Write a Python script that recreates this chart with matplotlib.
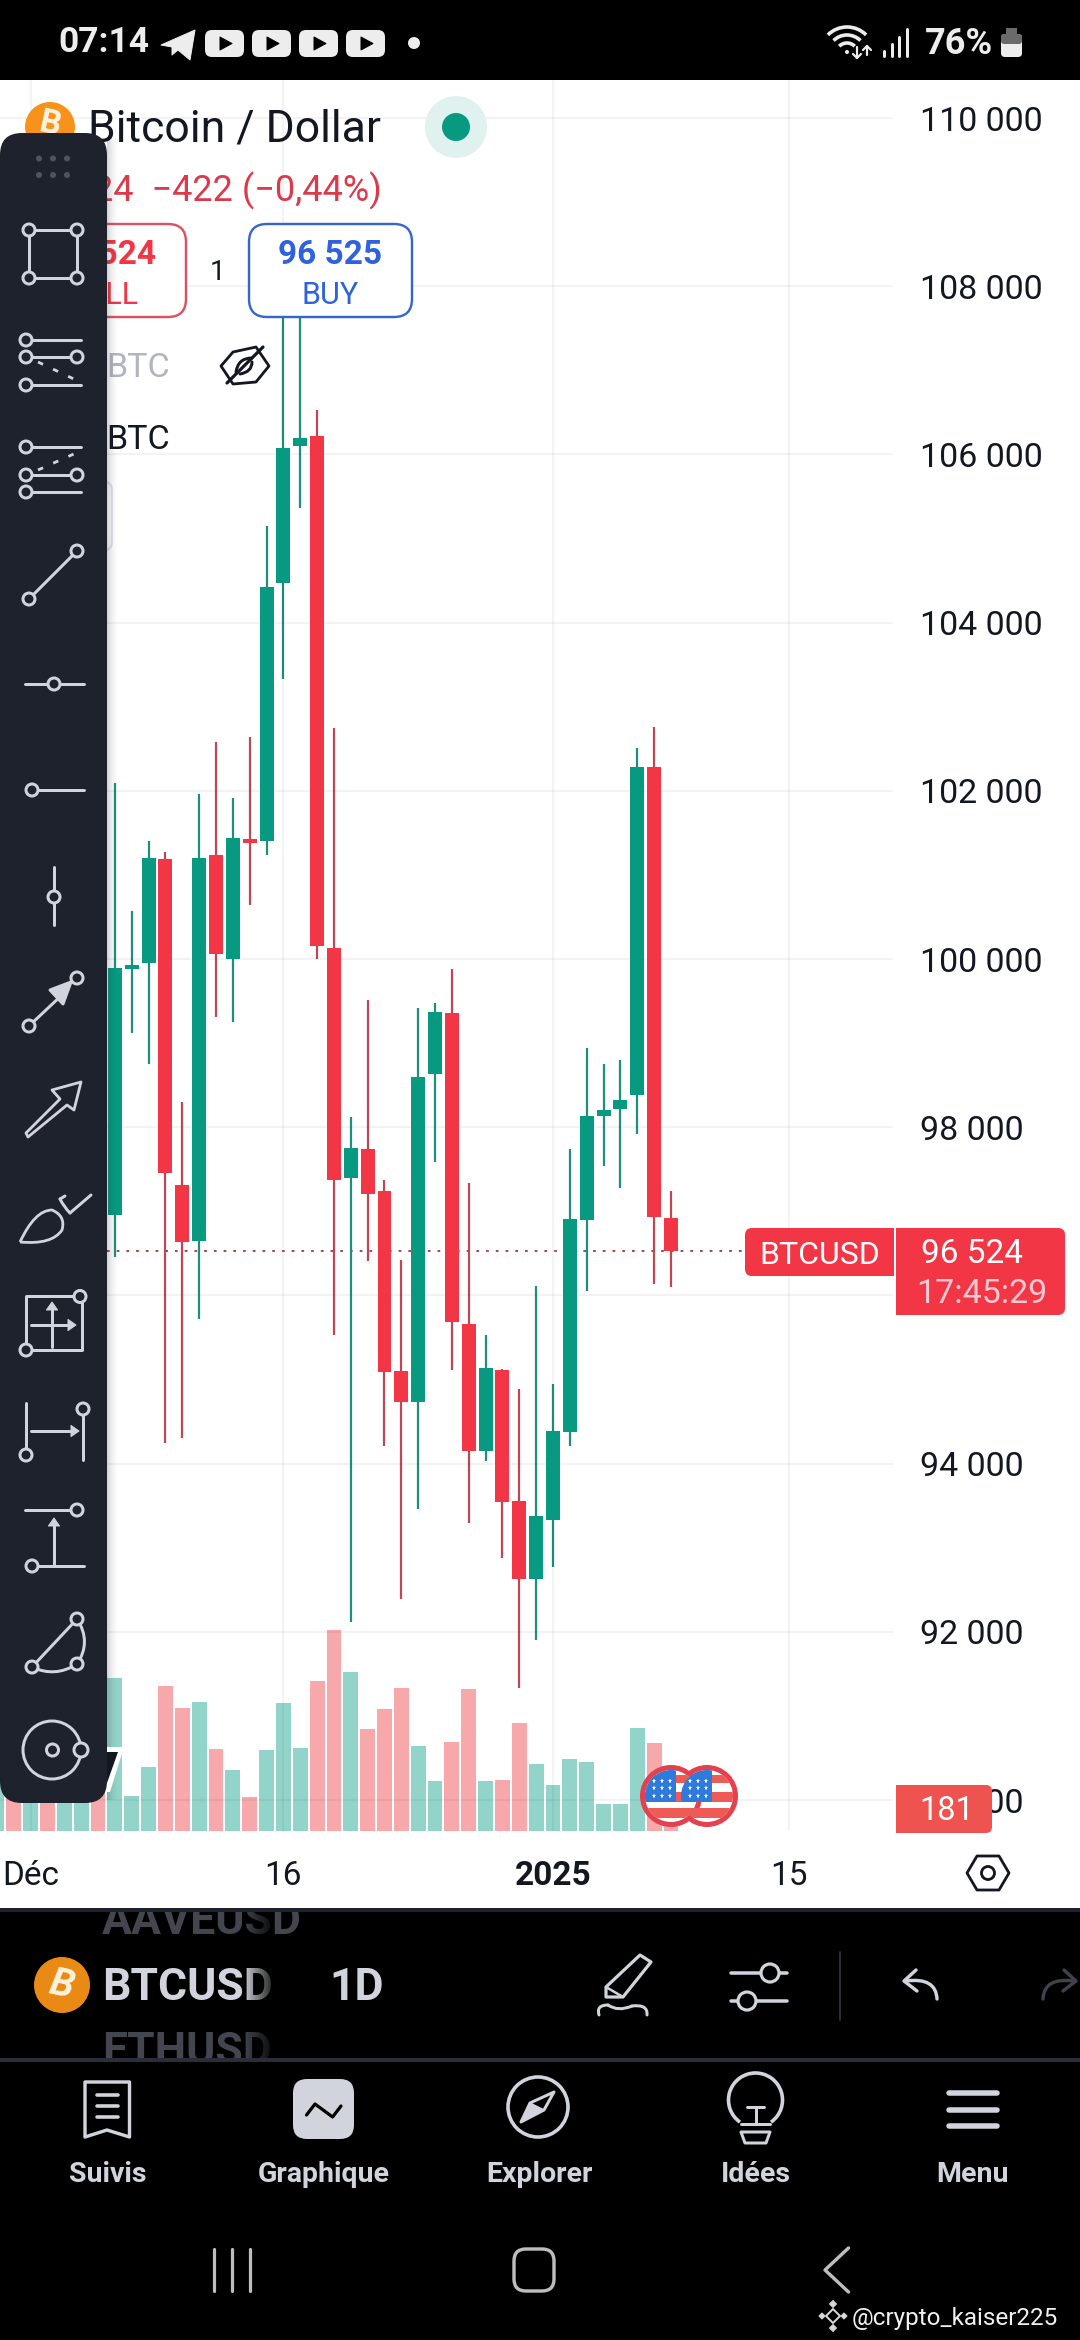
import matplotlib
matplotlib.use("Agg")
import matplotlib.pyplot as plt
from matplotlib.patches import Circle, FancyBboxPatch, Polygon, PathPatch, Rectangle, Arc
from matplotlib.path import Path
from matplotlib.transforms import Bbox, TransformedBbox

plt.rcParams['font.family'] = ['Roboto', 'DejaVu Sans']

# ---------- data (day offsets from 1 Jan 2025) ----------
candle_days = list(range(-26, 8))
opens = [96960, 99885, 99956, 101190, 97313, 96648, 101237, 100000, 101427, 101398, 104476, 106106,
         106219, 100131, 97400, 97741, 97242, 95102, 94739, 98633, 99358, 95664, 94151, 95114,
         93556, 92623, 93336, 94377, 96897, 98128, 98212, 98383, 102283, 96921]
highs = [102093, 100571, 101404, 101273, 98300, 101962, 102581, 101915, 102640, 105149, 108200, 108300,
         106528, 102747, 98122, 99513, 97373, 96422, 99418, 99477, 99882, 97340, 95530, 95126,
         94888, 96112, 94947, 97741, 98947, 98752, 98803, 102509, 102761, 97242]
lows = [96461, 99124, 98756, 94249, 94309, 95724, 99315, 99255, 100643, 101237, 103324, 105368,
        100006, 95535, 92122, 96410, 94210, 92391, 93465, 97587, 95114, 93295, 94032, 92878,
        91327, 91903, 92771, 94210, 96053, 97544, 97278, 97923, 96136, 96101]
closes = [99893, 99929, 101201, 97460, 96639, 101201, 100065, 101439, 101380, 104424, 106076, 106195,
          100155, 97373, 97757, 97206, 95090, 94739, 98597, 99370, 95680, 94155, 95141, 93548,
          92623, 93381, 94388, 96909, 98134, 98205, 98324, 102283, 96938, 96524]
volume_days = list(range(-33, 8))
volumes = [60, 70, 60, 75, 65, 60, 70, 153, 35, 64, 145, 123, 129, 82, 61, 34, 81, 128, 83,
           150, 201, 159, 102, 122, 143, 85, 50, 89, 142, 50, 51, 108, 67, 46, 72, 69, 27, 27,
           103, 88, 5]
volume_up = [1, 0, 1, 0, 1, 1, 0, 1, 1, 1, 0, 0, 1, 0, 1, 0, 1, 1, 1, 0, 0, 1, 0, 0, 0, 1, 1,
             0, 0, 1, 0, 0, 1, 1, 1, 1, 1, 1, 1, 0, 0]
price_ticks = [90000, 92000, 94000, 96000, 98000, 100000, 102000, 104000, 106000, 108000, 110000]
hidden_price_labels = [96000]
date_ticks = [-31, -16, 0, 14]
date_labels = ['Déc', '16', '2025', '15']
last_price = 96524

GREEN, RED = '#089981', '#F23645'
GREEN_V, RED_V = '#92D3CA', '#F7A8AB'
WICK_G, WICK_R = '#1F8F7D', '#BF4655'
INK = '#131722'
ICON = '#D1D4DC'
PANEL = '#1E222D'

W, H = 1080, 2340
fig = plt.figure(figsize=(W / 100, H / 100), dpi=100, facecolor='white')

# ---------- chart ----------
L, R, T, B = 0, 893, 80, 1831
rect = [L / W, 1 - B / H, (R - L) / W, (B - T) / H]
ax_v = fig.add_axes(rect, zorder=1)
ax = fig.add_axes(rect, zorder=2)
ax.patch.set_visible(False)
x_px = lambda p: (p - 553) / 16.85
ax.set_xlim(x_px(L), x_px(R))
ax_v.set_xlim(x_px(L), x_px(R))
ax.set_ylim(110000 - (B - 118) * 11.89, 110000 + (118 - T) * 11.89)
ax_v.set_ylim(0, B - T)
ax_v.axis('off')
for s in ax.spines.values():
    s.set_visible(False)

ax_v.bar(volume_days, volumes, width=0.88,
         color=[GREEN_V if u else RED_V for u in volume_up], linewidth=0)

ax.set_axisbelow(False)
ax.grid(True, color='#2A2E39', alpha=0.055, linewidth=1.5)
ax.set_xticks(date_ticks)
ax.set_xticklabels(date_labels, fontsize=24, color=INK)
ax.get_xticklabels()[2].set_fontweight('bold')
ax.set_yticks(price_ticks)
ax.set_yticklabels(['' if p in hidden_price_labels else f"{p:,}".replace(',', ' ') for p in price_ticks],
                   fontsize=24.5, color=INK)
ax.yaxis.tick_right()
ax.tick_params(axis='both', length=0)
ax.tick_params(axis='y', pad=19.5)
ax.tick_params(axis='x', pad=21)

ax.axhline(last_price, color='#A84452', lw=1.4, dashes=(1.4, 3.6), zorder=1.5)
for d, o, h, l, c in zip(candle_days, opens, highs, lows, closes):
    up = c >= o
    ax.vlines(d, l, h, color=WICK_G if up else WICK_R, lw=1.6, zorder=2)
    ax.bar(d, abs(c - o), bottom=min(o, c), width=0.83, color=GREEN if up else RED, linewidth=0, zorder=3)

# ---------- UI overlay, in screen pixels ----------
ui = fig.add_axes([0, 0, 1, 1], zorder=5)
ui.set_xlim(0, W)
ui.set_ylim(H, 0)
ui.axis('off')
ui.patch.set_visible(False)

def lines(pts, c=ICON, lw=3.0, z=20, **k):
    xs, ys = zip(*pts)
    ui.plot(xs, ys, color=c, lw=lw * 0.72, zorder=z, solid_capstyle='round',
            solid_joinstyle='round', **k)

def circ(x, y, r, ec=ICON, fc=PANEL, lw=3.0, z=21):
    ui.add_patch(Circle((x, y), r, ec=ec, fc=fc, lw=lw * 0.72, zorder=z))

def box(x0, y0, x1, y1, fc, ec='none', r=0, lw=2, z=5):
    ui.add_patch(FancyBboxPatch((x0, y0), x1 - x0, y1 - y0,
                                boxstyle=f"round,pad=0,rounding_size={r}",
                                fc=fc, ec=ec, lw=lw * 0.72, zorder=z))

def rect_(x0, y0, x1, y1, fc, z=5, alpha=None):
    ui.add_patch(Rectangle((x0, y0), x1 - x0, y1 - y0, fc=fc, ec='none', zorder=z, alpha=alpha))

def poly(pts, fc='none', ec=ICON, lw=3.0, z=20):
    ui.add_patch(Polygon(pts, closed=True, fc=fc, ec=ec, lw=lw * 0.72, zorder=z, joinstyle='round'))

def curve(verts, c=ICON, lw=3.0, z=20):
    codes = [Path.MOVETO] + [Path.CURVE3] * (len(verts) - 1)
    ui.add_patch(PathPatch(Path(verts, codes), fc='none', ec=c, lw=lw * 0.72, zorder=z, capstyle='round'))

def txt(x, y, s, size, c=INK, ha='center', weight='normal', z=6, **k):
    return ui.text(x, y + 3, s, fontsize=size, color=c, ha=ha, va='center', fontweight=weight, zorder=z, **k)

def head(x, y, dx, dy, s=8, z=20, c=ICON):
    # small filled arrow head pointing along (dx, dy)
    poly([(x, y), (x - dx * s + dy * s * .7, y - dy * s + dx * s * .7),
          (x - dx * s - dy * s * .7, y - dy * s - dx * s * .7)], fc=c, ec=c, lw=1, z=z)

# ---------- status bar ----------
rect_(0, 0, W, T, 'black', z=2)
SB = '#EDEDED'
txt(58, 40, '07:14', 25.5, SB, ha='left', weight='bold')
poly([(161, 45), (195, 30), (190, 60), (178, 50), (172, 55), (172, 47)], fc=SB, ec=SB, lw=1)
for x0 in (205, 252, 299, 346):
    box(x0, 30, x0 + 39, 57, SB, r=7)
    poly([(x0 + 15, 37), (x0 + 15, 50), (x0 + 27, 43.5)], fc='black', ec='black', lw=1, z=6)
ui.add_patch(Circle((414, 43), 6, fc=SB, ec='none', zorder=6))
for r_ in (27, 19, 11):
    ui.add_patch(Arc((847, 54), 2 * r_, 2 * r_, theta1=225, theta2=315, ec=SB, lw=2.6, zorder=6))
ui.add_patch(Circle((847, 52), 2, fc=SB, ec='none', zorder=6))
lines([(857, 47), (857, 58)], SB, 2.2, 6); lines([(853, 54), (857, 58), (861, 54)], SB, 2.2, 6)
lines([(867, 55), (867, 46)], SB, 2.2, 6); lines([(863, 50), (867, 46), (871, 50)], SB, 2.2, 6)
for x0, y0 in zip((884, 892, 899, 907), (51, 44, 37, 29)):
    lines([(x0, y0), (x0, 56)], SB, 3, 6)
txt(925, 41, '76%', 26, SB, ha='left', weight='bold')
box(1001, 34, 1022, 57, SB, r=4, z=6)
box(1001, 34, 1022, 44, '#6A6A6A', r=3, z=7)
rect_(1006, 28, 1017, 36, '#6A6A6A', z=7)

# ---------- legend block ----------
ui.add_patch(Circle((50, 127), 25, fc='#F7931A', ec='none', zorder=3))
txt(50, 121, 'B', 24, '#FFF4E2', weight='bold', rotation=-12, z=4)
txt(88, 127, 'Bitcoin / Dollar', 32, INK, ha='left')
ui.add_patch(Circle((456, 127), 31, fc='#DFF2EF', ec='none', zorder=3))
ui.add_patch(Circle((456, 127), 14, fc=GREEN, ec='none', zorder=4))
txt(382, 188, '96 524  −422 (−0,44%)', 26, '#DB3A4A', ha='right')
box(23, 224, 186, 317, 'white', ec='#D9535F', r=18, lw=2.4)
txt(104.5, 252, '96 524', 24, '#F23645', weight='bold')
txt(104.5, 292, 'SELL', 22, '#F23645')
txt(217, 269, '1', 20, INK)
box(249, 224, 412, 317, 'white', ec='#3566CE', r=18, lw=2.4)
txt(330, 252, '96 525', 24, '#2F62DC', weight='bold')
txt(330, 292, 'BUY', 22, '#2F62DC')
txt(170, 365, 'BTC', 24.5, '#B2B5BE', ha='right')
txt(170, 437, 'BTC', 24.5, INK, ha='right')
# crossed eye
poly([(221, 366), (233, 352), (256, 347), (269, 366), (256, 382), (233, 384)], ec=INK, lw=2.8, z=7)
curve([(236, 372), (238, 358), (252, 358)], INK, 3, 7)
curve([(240, 374), (252, 372), (252, 362)], INK, 3, 7)
lines([(227, 383), (263, 347)], INK, 3.2, 8)
box(60, 482, 112, 550, 'white', ec='#E0E3EB', r=8, lw=2)

# ---------- price tags ----------
box(745, 1228, 780, 1276, RED, r=7)
rect_(765, 1228, 894, 1276, RED)
txt(820, 1252, 'BTCUSD', 23, 'white')
box(1030, 1228, 1065, 1315, RED, r=7)
rect_(896, 1228, 1050, 1315, RED)
txt(972, 1251, '96 524', 24, 'white')
txt(982, 1291, '17:45:29', 24.5, '#FBC9CF')
box(960, 1785, 992, 1833, '#EF5350', r=6)
rect_(896, 1785, 980, 1833, '#EF5350')
txt(947, 1808, '181', 23.5, 'white')

# hexagon button
poly([(967, 1873), (977, 1856), (999, 1856), (1009, 1873), (999, 1890), (977, 1890)], ec=INK, lw=2.8, z=6)
circ(988, 1873, 6.5, ec=INK, fc='white', lw=2.8, z=6)

# ---------- event flags ----------
def flag(cx, cy=1796):
    disc = Circle((cx, cy), 28.5, fc='white', ec='#E5404E', lw=5.0 * 0.72, zorder=8)
    ui.add_patch(disc)
    clip = Circle((cx, cy), 26, transform=ui.transData)
    for y0, y1 in ((1775, 1783), (1792, 1802), (1808, 1818)):
        r_ = Rectangle((cx - 30, y0), 60, y1 - y0, fc='#EE5A55', ec='none', zorder=9)
        ui.add_patch(r_); r_.set_clip_path(clip)
    r_ = Rectangle((cx - 30, 1770), 35, 32, fc='#2E7BDC', ec='none', zorder=10)
    ui.add_patch(r_); r_.set_clip_path(clip)
    for dy in (-15, -8, 0):
        for dx in (-17, -9, -1):
            m, = ui.plot(cx + dx, cy + dy, marker='*', ms=3.6, color='white', mew=0, zorder=11, ls='none')
            m.set_clip_path(clip)

flag(707)
flag(671)

# ---------- floating drawing toolbar ----------
for i in range(12):
    rect_(107 + i, 140, 108 + i, 1800, '#2A2E39', z=11, alpha=0.2 * (1 - i / 12) ** 2)
poly([(107, 1747), (124, 1747), (110, 1792), (107, 1792)], fc='white', ec='none', lw=0, z=11)
poly([(107, 1752), (118, 1752), (107, 1783)], fc='#131722', ec='none', lw=0, z=11.5)
box(0, 133, 107, 1803, PANEL, r=22, z=12)
for x0 in (39, 53, 67):
    for y0 in (158.5, 175):
        ui.add_patch(Circle((x0, y0), 3, fc='#50535E', ec='none', zorder=13))

# rectangle
lines([(29, 230), (77, 230), (77, 278), (29, 278), (29, 230)])
for p in ((29, 230), (77, 230), (29, 278), (77, 278)):
    circ(*p, 6)
# pitchforks
for y0 in (340, 385):
    lines([(26, y0), (81, y0)]); circ(26, y0, 6)
lines([(26, 357), (77, 357)]); circ(26, 357, 6); circ(77, 357, 6)
ui.plot([38, 76], [362, 380], color=ICON, lw=2, ls=(0, (2, 4)), zorder=20)
for y0 in (447, 492):
    lines([(26, y0), (81, y0)]); circ(26, y0, 6)
lines([(26, 475), (77, 475)]); circ(26, 475, 6); circ(77, 475, 6)
ui.plot([38, 76], [470, 453], color=ICON, lw=2, ls=(0, (2, 4)), zorder=20)
# trend line
lines([(29, 599), (77, 551)]); circ(29, 599, 6); circ(77, 551, 6)
# horizontal line / ray / vertical line
lines([(25, 684), (84, 684)]); circ(54, 684, 6)
lines([(32, 790), (84, 790)]); circ(32, 790, 6)
lines([(54, 867), (54, 925)]); circ(54, 897, 6)
# arrow marker
lines([(29, 1026), (64, 993)]); circ(29, 1026, 6); circ(77, 978, 6)
poly([(71, 982), (50, 990), (63, 1004)], fc=ICON)
# arrow outline
poly([(81, 1082), (52, 1090), (60, 1099), (26, 1133), (28, 1137), (67, 1105), (74, 1110)], lw=2.8)
# brush
ui.add_patch(PathPatch(Path([(20, 1242), (35, 1210), (52, 1210), (66, 1216), (62, 1230), (52, 1245), (20, 1242)],
                            [Path.MOVETO, Path.CURVE3, Path.CURVE3, Path.CURVE3, Path.CURVE3, Path.CURVE3, Path.LINETO]),
                       fc='none', ec=ICON, lw=2.0, zorder=20))
curve([(60, 1199), (64, 1207), (70, 1213)]) ; lines([(60, 1199), (65, 1196)]); lines([(70, 1213), (91, 1195)])
# long position
lines([(26, 1350), (26, 1296), (80, 1296), (82, 1296), (82, 1350), (26, 1350)])
circ(80, 1296.5, 6); circ(26, 1350, 6)
lines([(31, 1325), (72, 1325)]); head(76, 1325, 1, 0)
lines([(52, 1347), (52, 1306)]); head(52, 1302, 0, -1)
# date range
lines([(26, 1403), (26, 1450)]); circ(26, 1455, 6)
lines([(83, 1413), (83, 1460)]); circ(83, 1409, 6)
lines([(31, 1431), (75, 1431)]); head(79, 1431, 1, 0)
# price range
lines([(25, 1510), (72, 1510)]); circ(77, 1510, 6)
lines([(38, 1566), (84, 1566)]); circ(32, 1566, 6)
lines([(54, 1566), (54, 1522)]); head(54, 1518, 0, -1)
# triangle
lines([(32, 1667), (77, 1619)])
curve([(77, 1619), (92, 1642), (77, 1664)])
curve([(77, 1664), (55, 1678), (32, 1667)])
circ(77, 1619, 6); circ(32, 1667, 6); circ(77, 1664, 6)
# circle
circ(52, 1750, 29, fc='none')
circ(52.5, 1750, 6); circ(81, 1750, 7)

# ---------- bottom bar ----------
rect_(0, 1908, W, H, 'black', z=2)
rect_(0, 1908, W, 1912, '#1E222D', z=3)
rect_(0, 2058, W, 2062, '#2A2E39', z=3)

clip_a = TransformedBbox(Bbox([[0, 1912], [W, 2058]]), ui.transData)
for y0, s in ((1919, 'AAVEUSD'), (2049, 'ETHUSD')):
    t = txt(102, y0, s, 32, '#43464F', ha='left', weight='bold', z=4)
    t.set_clip_box(clip_a); t.set_clip_on(True)
ui.add_patch(Circle((62, 1985), 28, fc='#E98A14', ec='none', zorder=4))
txt(62, 1982, 'B', 28, '#FFF2DC', weight='bold', rotation=-12, z=5, style='italic')
txt(102, 1985, 'BTCUSD', 32, '#D1D4DC', ha='left', weight='bold', z=4)
for i in range(14):
    rect_(244 + 2 * i, 1912, 246 + 2 * i, 2058, 'black', z=4.5, alpha=(i + 1) / 18)
txt(329, 1985, '1D', 32, '#D1D4DC', ha='left', weight='bold')

# pencil
poly([(606, 1997), (606, 1987), (640, 1955), (651, 1962), (623, 1997)], lw=3.2, z=6)
lines([(606, 1987), (623, 1997)], lw=2.5, z=6)
curve([(599, 2015), (596, 2005), (608, 2005)], lw=3, z=6)
curve([(608, 2005), (618, 2012), (632, 2006)], lw=3, z=6)
curve([(632, 2006), (648, 2004), (647, 2015)], lw=3, z=6)
# sliders
lines([(731, 1973), (787, 1973)], lw=3.5, z=6); circ(770, 1973, 9, fc='black', lw=3.2, z=7)
lines([(731, 2001), (787, 2001)], lw=3.5, z=6); circ(747, 2001, 9, fc='black', lw=3.2, z=7)
lines([(840, 1952), (840, 2020)], '#2A2E39', 2, 6)
# undo / redo
curve([(906, 1981), (936, 1977), (937, 1999)], lw=3.4, z=6)
lines([(916, 1970), (904, 1981), (917, 1991)], lw=3.4, z=6)
curve([(1074, 1981), (1044, 1977), (1043, 1999)], '#3F424B', 3.4, 6)
lines([(1064, 1970), (1076, 1981), (1063, 1991)], '#3F424B', 3.4, 6)

# nav icons
poly([(85, 2082), (129.5, 2082), (129.5, 2137), (107, 2130), (85, 2137)], lw=3.4, z=6)
for y0 in (2095, 2106, 2117):
    lines([(97, y0), (118, y0)], lw=3.6, z=6)
box(293, 2079, 354, 2139, '#D1D4DC', r=14, z=6)
lines([(306.5, 2115), (315, 2104), (332.6, 2117), (341, 2106)], 'black', 3.2, 7)
circ(538, 2107, 30, fc='none', lw=3.6, z=6)
poly([(554, 2092), (544, 2110), (521, 2122), (530, 2103)], lw=3, z=6)
poly([(521, 2122), (530, 2103), (544, 2110)], fc=ICON, lw=1.5, z=6)
ui.add_patch(Arc((755.5, 2100), 54, 54, theta1=125, theta2=55, ec=ICON, lw=2.6, zorder=6))
lines([(747, 2107), (764, 2107)], lw=3, z=6); lines([(755.5, 2107), (755.5, 2124)], lw=3, z=6)
lines([(741, 2124), (770, 2124)], lw=3, z=6)
poly([(741, 2132), (770, 2132), (766, 2143), (745, 2143)], lw=3, z=6)
for y0 in (2093, 2109.5, 2126):
    lines([(949, y0), (997, y0)], lw=5.5, z=6)
for x0, s in zip((108, 324, 539, 755.5, 972), ('Suivis', 'Graphique', 'Explorer', 'Idées', 'Menu')):
    txt(x0, 2171, s, 20.5, '#D1D4DC', weight='bold')

# Android navigation
for x0 in (213.5, 232, 250):
    lines([(x0, 2249), (x0, 2291)], '#BDBDBD', 3.2, 6)
box(514, 2249, 554, 2291, 'none', ec='#BDBDBD', r=12, lw=3.4, z=6)
lines([(848.5, 2248), (825, 2270), (848.5, 2292)], '#BDBDBD', 3.4, 6)

# watermark
for x0, y0, s_ in ((833, 2304, 3.5), (833, 2328, 3.5), (822, 2316, 3), (844, 2316, 3)):
    poly([(x0 - s_, y0), (x0, y0 - s_), (x0 + s_, y0), (x0, y0 + s_)], fc='#D8D8D8', ec='#D8D8D8', lw=1, z=6)
poly([(826, 2316), (833, 2309), (840, 2316), (833, 2323)], fc='none', ec='#D8D8D8', lw=2, z=6)
txt(852, 2315, '@crypto_kaiser225', 17.5, '#F0F0F0', ha='left')

fig.savefig('out.png', dpi=100)
